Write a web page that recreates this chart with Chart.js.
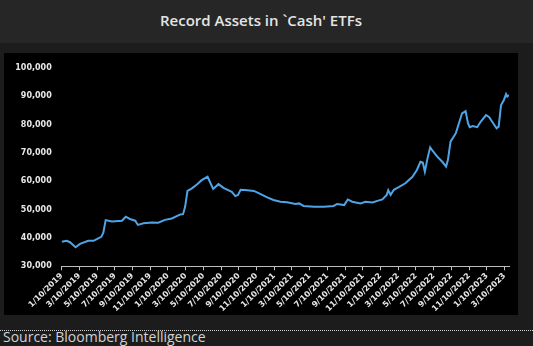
<!DOCTYPE html>
<html>
<head>
<meta charset="utf-8">
<script src="https://cdn.jsdelivr.net/npm/chart.js@4.4.1/dist/chart.umd.min.js"></script>
<style>
  html, body { margin: 0; padding: 0; width: 533px; height: 346px; overflow: hidden; background: #1c1c1c; }
  #titlebar { position: absolute; left: 0; top: 0; width: 533px; height: 43px; background: #262626;
    color: #e4e4e4; font: 600 15px "Open Sans", sans-serif; text-align: center; line-height: 41px; padding-right: 11px; box-sizing: border-box; }
  #panel { position: absolute; left: 4px; top: 53px; width: 514px; height: 262px; background: #000; }
  #rule { position: absolute; left: 0; top: 330px; width: 533px; border-top: 1px dotted #cfcfcf; }
  #source { position: absolute; left: 3px; top: 327px; color: #d2d2d2; font: 14px "Open Sans", sans-serif; }
</style>
</head>
<body>
<div id="titlebar">Record Assets in `Cash' ETFs</div>
<div id="panel"><canvas id="grafico"></canvas></div>
<div id="rule"></div>
<div id="source">Source: Bloomberg Intelligence</div>
<script>
// fechas y activos (USD mn)
const fechas = [
    '2019-01-10', '2019-01-27', '2019-02-08', '2019-02-27', '2019-03-12', '2019-04-10', '2019-04-28',
    '2019-05-09', '2019-05-24', '2019-05-31', '2019-06-09', '2019-06-30', '2019-08-04', '2019-08-17',
    '2019-09-01', '2019-09-19', '2019-09-28', '2019-10-17', '2019-11-16', '2019-12-07', '2019-12-30',
    '2020-01-23', '2020-02-22', '2020-03-01', '2020-03-08', '2020-03-16', '2020-03-31', '2020-04-18',
    '2020-05-04', '2020-05-24', '2020-06-13', '2020-07-01', '2020-07-18', '2020-08-16', '2020-08-28',
    '2020-09-07', '2020-09-16', '2020-10-01', '2020-10-31', '2020-11-17', '2020-12-16', '2021-01-07',
    '2021-01-31', '2021-02-23', '2021-03-22', '2021-04-04', '2021-04-19', '2021-05-25', '2021-06-28',
    '2021-07-31', '2021-08-13', '2021-09-07', '2021-09-19', '2021-10-04', '2021-11-02', '2021-11-19',
    '2021-12-13', '2021-12-29', '2022-01-16', '2022-01-31', '2022-02-06', '2022-02-14', '2022-02-25',
    '2022-03-13', '2022-04-04', '2022-04-28', '2022-05-13', '2022-05-25', '2022-06-03', '2022-06-10',
    '2022-06-19', '2022-06-28', '2022-07-06', '2022-07-22', '2022-08-09', '2022-08-22', '2022-08-28',
    '2022-09-07', '2022-09-25', '2022-10-07', '2022-10-16', '2022-10-28', '2022-11-06', '2022-11-12',
    '2022-11-22', '2022-12-07', '2022-12-19', '2023-01-07', '2023-01-18', '2023-01-28', '2023-02-13',
    '2023-02-20', '2023-02-28', '2023-03-07', '2023-03-15', '2023-03-19', '2023-03-25'
];

const activos = [
    38700, 39000, 38500, 36700, 37900, 39000, 39000,
    39600, 40400, 41900, 46300, 45800, 46100, 47500,
    46700, 46100, 44600, 45200, 45500, 45400, 46400,
    46900, 48300, 48400, 51000, 56600, 57500, 58900,
    60400, 61600, 57300, 59000, 57700, 56300, 54800,
    55200, 57000, 56900, 56600, 55800, 54300, 53400,
    52800, 52600, 52000, 52200, 51300, 51000, 51000,
    51300, 52000, 51600, 53600, 52800, 52200, 52800,
    52500, 53100, 53600, 55200, 56900, 55200, 57000,
    58000, 59300, 61600, 64000, 66900, 66600, 63400,
    68100, 72000, 70800, 68700, 66900, 65200, 67500,
    74000, 77000, 81000, 84000, 84800, 80500, 79100,
    79500, 79100, 81000, 83400, 82600, 81000, 78700,
    79300, 86900, 88500, 90800, 89900, 90500
];

const etiquetasX = [
    '1/10/2019', '3/10/2019', '5/10/2019', '7/10/2019', '9/10/2019', '11/10/2019',
    '1/10/2020', '3/10/2020', '5/10/2020', '7/10/2020', '9/10/2020', '11/10/2020',
    '1/10/2021', '3/10/2021', '5/10/2021', '7/10/2021', '9/10/2021', '11/10/2021',
    '1/10/2022', '3/10/2022', '5/10/2022', '7/10/2022', '9/10/2022', '11/10/2022',
    '1/10/2023', '3/10/2023'
];

// meses desde el 10/1/2019
function mesesDesdeInicio(fecha) {
    const [a, m, d] = fecha.split('-').map(Number);
    return (a - 2019) * 12 + (m - 1) + (d - 10) / 30;
}

const puntos = fechas.map((f, i) => ({ x: mesesDesdeInicio(f), y: activos[i] }));

Chart.defaults.font.family = '"DejaVu Sans", Verdana, sans-serif';
Chart.defaults.font.size = 8;
Chart.defaults.font.weight = 'bold';
Chart.defaults.color = '#e8e8e8';

const ctx = document.getElementById('grafico').getContext('2d');
window.grafico = new Chart(ctx, {
    type: 'line',
    data: {
        datasets: [{
            label: 'Assets',
            data: puntos,
            borderColor: '#4ea4e6',
            borderWidth: 2,
            pointRadius: 0,
            tension: 0
        }]
    },
    options: {
        responsive: true,
        maintainAspectRatio: false,
        animation: false,
        layout: { padding: { top: 15, right: 9, left: 0, bottom: 0 } },
        plugins: {
            legend: { display: false },
            tooltip: { enabled: false }
        },
        scales: {
            x: {
                type: 'linear',
                min: 0,
                max: mesesDesdeInicio(fechas[fechas.length - 1]),
                afterBuildTicks: (scale) => {
                    scale.ticks = etiquetasX.map((e, i) => ({ value: i * 2 }));
                },
                afterFit: (scale) => { scale.height = 48.7; },
                grid: { drawOnChartArea: false, color: '#bdbdbd', tickLength: 4 },
                border: { color: '#bdbdbd', width: 1 },
                ticks: {
                    autoSkip: false,
                    minRotation: 45,
                    maxRotation: 45,
                    padding: 1,
                    callback: (v, i) => etiquetasX[i]
                }
            },
            y: {
                min: 30000,
                max: 100000,
                afterFit: (scale) => { scale.width = 57.7; },
                grid: { display: false, drawTicks: false },
                border: { display: false },
                ticks: {
                    stepSize: 10000,
                    padding: 10,
                    callback: (v) => v.toLocaleString('en-US')
                }
            }
        }
    }
});
</script>
</body>
</html>
